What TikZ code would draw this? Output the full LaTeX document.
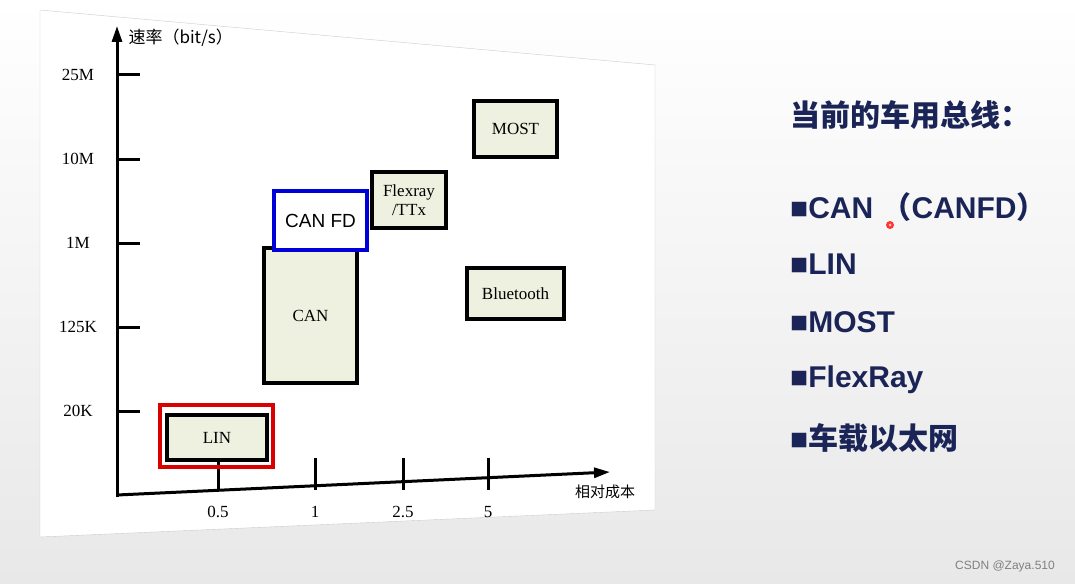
\documentclass[tikz,border=0pt]{standalone}
\usepackage{fontspec}
\setmainfont{Liberation Serif}
\setsansfont{Liberation Sans}
\newfontfamily\cjk{Noto Sans CJK SC}
\usetikzlibrary{arrows.meta}
\definecolor{boxg}{HTML}{EEF1DF}
\definecolor{navy}{HTML}{1B2456}
\tikzset{
 bx/.style={draw=black,line width=3.4pt,fill=boxg,font=\fontsize{17}{19}\selectfont,align=center,inner sep=0pt},
 tk/.style={line width=3pt},
 lbl/.style={font=\fontsize{17}{19}\selectfont},
 rt/.style={font=\sffamily\bfseries\fontsize{30}{32}\selectfont,text=navy,anchor=west,inner sep=0pt},
}
\begin{document}
\begin{tikzpicture}[x=1pt,y=-1pt]
\useasboundingbox (0,0) rectangle (1075,583);
\shade[top color=white,bottom color=gray!18] (0,0) rectangle (1075,583);
% sheet
\fill[white,draw=gray!40] (40,10) -- (655,65) -- (655,510) -- (40,537) -- cycle;
% axes
\coordinate (o) at (117,495);
\coordinate (ytop) at (117,26);
\coordinate (xend) at (610,472);
\draw[tk,-{Triangle[length=16pt,width=10pt]}] (117,497) -- (ytop);
\draw[tk,-{Triangle[length=16pt,width=10pt]}] (o) -- (xend);
\node[lbl,anchor=west] (yt) at (125,38) {\cjk 速率（bit/s）};
\node[lbl,anchor=south,font=\cjk\fontsize{15}{17}\selectfont] (xt) at (605,502) {相对成本};
\foreach \y/\t in {75/25M,159/10M,243/1M,327/125K,411/20K}{
 \draw[tk] (117,\y) -- (140,\y);
 \node[lbl] at (78,\y) {\t};}
\foreach \x/\t in {218/0.5,315/1,403/2.5,488/5}{
 \draw[tk] (\x,490) -- (\x,458);
 \node[lbl] at (\x,512) {\t};}
% boxes
\node[draw=red!85!black,line width=3.4pt,minimum width=113pt,minimum height=62pt] (linr) at (216.5,436) {};
\node[bx,minimum width=100pt,minimum height=45pt] (lin) at (217,437.5) {LIN};
\node[bx,minimum width=93pt,minimum height=135pt] (can) at (310.5,315.5) {CAN};
\node[draw=blue!85!black,line width=4pt,fill=white,minimum width=93pt,minimum height=59pt,font=\sffamily\fontsize{19}{21}\selectfont] (canfd) at (320.5,220.5) {CAN FD};
\node[bx,minimum width=74pt,minimum height=56pt] (flex) at (409,200) {Flexray\\/TTx};
\node[bx,minimum width=83pt,minimum height=56pt] (most) at (515.5,129) {MOST};
\node[bx,minimum width=97pt,minimum height=51pt] (bt) at (515.5,293.5) {Bluetooth};
% right text
\node[rt] (h) at (790,115) {\cjk\bfseries 当前的车用总线：};
\node[rt] (l1) at (790,207) {■CAN {\cjk\bfseries （}CANFD{\cjk\bfseries ）}};
\node[rt] (l2) at (790,264) {■LIN};
\node[rt] (l3) at (790,322) {■MOST};
\node[rt] (l4) at (790,380) {■FlexRay};
\node[rt] (l5) at (790,438) {■{\cjk\bfseries 车载以太网}};
\fill[red!80] (890,225) circle (4pt);
\fill[pink] (890,225) circle (1.5pt);
\node[font=\sffamily\fontsize{12}{14}\selectfont,text=gray] (wm) at (1005,566) {CSDN @Zaya.510};
\end{tikzpicture}
\end{document}
